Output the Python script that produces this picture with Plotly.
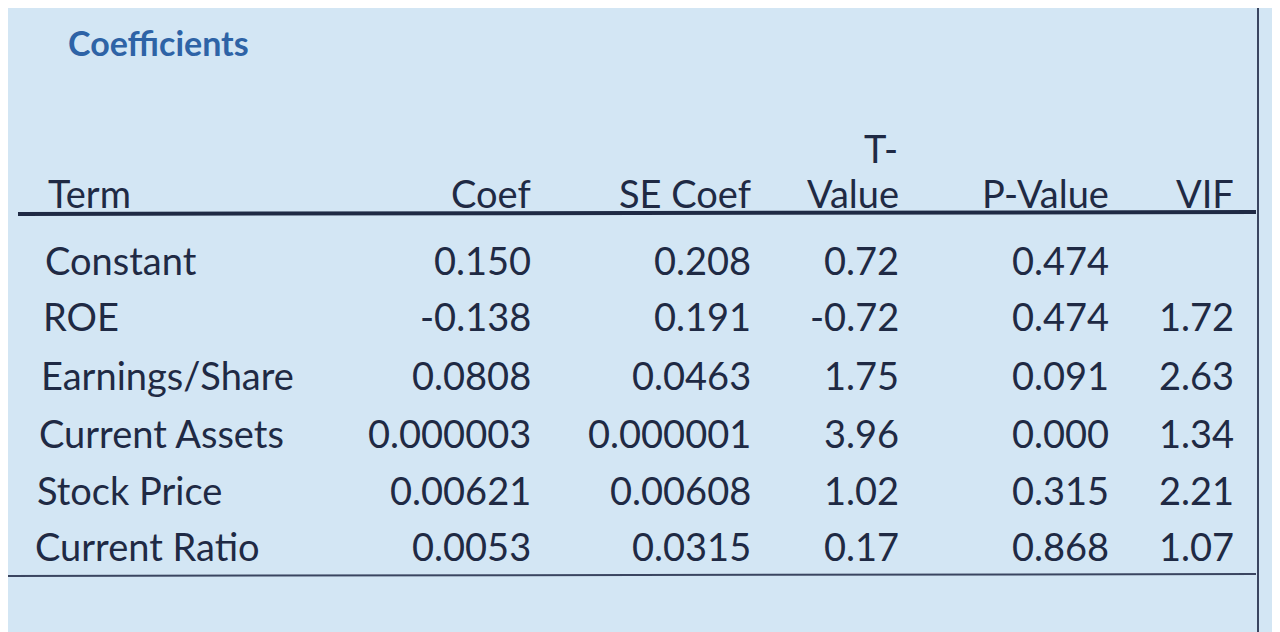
import plotly.graph_objects as go

title = "Coefficients"
headers = ["Term", "Coef", "SE Coef", "Value", "P-Value", "VIF"]
terms = ["Constant", "ROE", "Earnings/Share", "Current Assets", "Stock Price", "Current Ratio"]
coef = ["0.150", "-0.138", "0.0808", "0.000003", "0.00621", "0.0053"]
se_coef = ["0.208", "0.191", "0.0463", "0.000001", "0.00608", "0.0315"]
t_value = ["0.72", "-0.72", "1.75", "3.96", "1.02", "0.17"]
p_value = ["0.474", "0.474", "0.091", "0.000", "0.315", "0.868"]
vif = ["", "1.72", "2.63", "1.34", "2.21", "1.07"]

W, H = 1280, 632
ink = "#1f2a44"
font = "Lato"
fs = 38

fig = go.Figure()
fig.update_xaxes(range=[0, W], visible=False, fixedrange=True)
fig.update_yaxes(range=[H, 0], visible=False, fixedrange=True)

def txt(x, y, s, anchor, size=fs, color=ink, bold=False):
    fig.add_annotation(x=x, y=y, text=f"<b>{s}</b>" if bold else s, showarrow=False,
                       xanchor=anchor, yanchor="middle",
                       font=dict(family=font, size=size, color=color))

txt(58, 34, title, "left", size=34, color="#2e63a6", bold=True)
txt(873, 140, "T-", "center")

col_right = [525, 745, 893, 1103, 1228]
row_y = [252, 308, 367, 425, 482, 538]
header_y = 185

txt(38, header_y, headers[0], "left")
for x, h in zip(col_right, headers[1:]):
    txt(x, header_y, h, "right")

cols = [coef, se_coef, t_value, p_value, vif]
for i, (t, y) in enumerate(zip(terms, row_y)):
    txt(35 - i * 2, y, t, "left")
    for x, c in zip(col_right, cols):
        if c[i]:
            txt(x, y, c[i], "right")

fig.add_shape(type="line", x0=10, x1=1248, y0=206, y1=204, line=dict(color=ink, width=4))
fig.add_shape(type="line", x0=0, x1=1248, y0=568, y1=566, line=dict(color="#3a4560", width=2))
fig.add_shape(type="line", x0=1250, x1=1250, y0=0, y1=H, line=dict(color="#3a4560", width=2))

fig.update_layout(width=W, height=H, margin=dict(l=0, r=0, t=0, b=0),
                  paper_bgcolor="#d3e6f4", plot_bgcolor="#d3e6f4", showlegend=False)
fig.write_html("out.html")
